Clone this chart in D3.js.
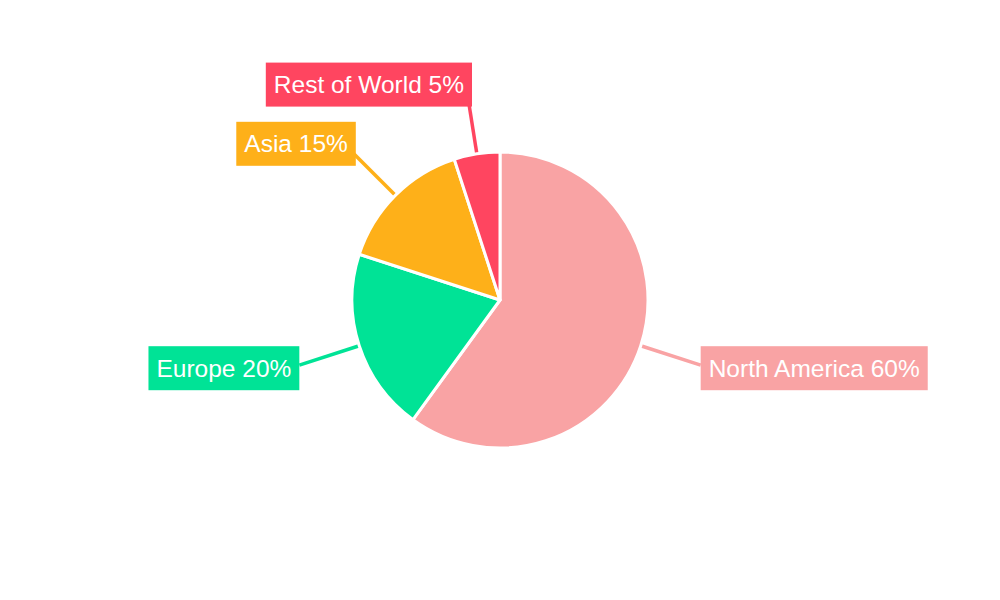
<!DOCTYPE html>
<html><head><meta charset="utf-8">
<script src="https://cdn.jsdelivr.net/npm/d3@7/dist/d3.min.js"></script>
<style>body{margin:0;background:#fff}svg{display:block}</style>
</head><body>
<svg id="chart" width="1000" height="600"></svg>
<script>
const categories = ["North America", "Europe", "Asia", "Rest of World"];
const values = [60, 20, 15, 5];
const colors = ["#F9A3A4", "#00E396", "#FEB019", "#FF4560"];

const svg = d3.select("#chart");
const cx = 500, cy = 300, r = 148, rLabel = 211;
const g = svg.append("g").attr("transform", `translate(${cx},${cy})`);

const pie = d3.pie().sort(null).value(d => d.value);
const data = pie(categories.map((c, i) => ({name: c, value: values[i], color: colors[i]})));
const arc = d3.arc().innerRadius(0).outerRadius(r);

const fontSize = 24.5;
const padX = 8, boxH = 44;

data.forEach(d => {
  const a = (d.startAngle + d.endAngle) / 2;
  const p1 = [r * Math.sin(a), -r * Math.cos(a)];
  const p2 = [rLabel * Math.sin(a), -rLabel * Math.cos(a)];
  g.append("line").attr("x1", p1[0]).attr("y1", p1[1]).attr("x2", p2[0]).attr("y2", p2[1])
    .attr("stroke", d.data.color).attr("stroke-width", 3.5);
});

g.selectAll("path.slice").data(data).join("path").attr("class", "slice")
  .attr("d", arc).attr("fill", d => d.data.color)
  .attr("stroke", "#fff").attr("stroke-width", 3).attr("stroke-linejoin", "round");

data.forEach(d => {
  const a = (d.startAngle + d.endAngle) / 2;
  const ax = rLabel * Math.sin(a), ay = -rLabel * Math.cos(a);
  const label = `${d.data.name} ${d.data.value}%`;
  const lg = g.append("g");
  const txt = lg.append("text").text(label)
    .attr("font-family", "Liberation Sans, Arial, sans-serif")
    .attr("font-size", fontSize).attr("fill", "#fff")
    .attr("dominant-baseline", "central");
  const w = txt.node().getComputedTextLength() + padX * 2;
  const side = Math.abs(Math.sin(a)) > 0.9;
  let bx, by;
  if (side) {
    bx = ax > 0 ? ax : ax - w;
    by = ay - 19;
  } else {
    bx = ax > 0 ? ax - 5 : ax + 5 - w;
    by = ay - 29;
  }
  lg.insert("rect", "text").attr("x", bx).attr("y", by).attr("width", w).attr("height", boxH)
    .attr("fill", d.data.color);
  txt.attr("x", bx + padX).attr("y", by + boxH / 2);
});
</script>
</body></html>
